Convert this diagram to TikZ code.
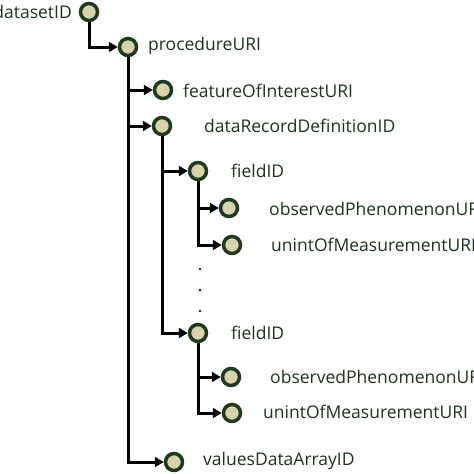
\documentclass[tikz,border=0pt]{standalone}
\usepackage{fontspec}
\setmainfont{Open Sans}
\usetikzlibrary{arrows.meta}
\definecolor{ringgreen}{RGB}{28,58,28}
\definecolor{beige}{RGB}{216,210,168}
\definecolor{txtgreen}{RGB}{28,50,28}
\tikzset{
  dot/.style={circle,draw=ringgreen,fill=beige,line width=3.5pt,minimum size=17pt,inner sep=0pt},
  lbl/.style={anchor=west,text=txtgreen,font=\fontsize{17.5}{19}\selectfont,inner sep=0pt},
  conn/.style={line width=3pt,-{Triangle[length=9pt,width=10pt]}},
  ell/.style={circle,fill=black,inner sep=0pt,minimum size=2.5pt}
}
\begin{document}
\begin{tikzpicture}[x=1pt,y=-1pt]
\useasboundingbox (0,0) rectangle (474,474);
% circles
\node[dot] (ds) at (89,12) {};
\node[dot] (pr) at (128,47) {};
\node[dot] (fo) at (163,90) {};
\node[dot] (dr) at (162,126) {};
\node[dot] (f1) at (198,171) {};
\node[dot] (o1) at (229,208) {};
\node[dot] (u1) at (232,245) {};
\node[dot] (f2) at (198,333) {};
\node[dot] (o2) at (231,377) {};
\node[dot] (u2) at (232,413) {};
\node[dot] (va) at (174,462) {};
% dots
\node[ell] (e1) at (200,269) {};
\node[ell] (e2) at (200,290) {};
\node[ell] (e3) at (200,311) {};
% labels
\node[lbl,anchor=east] (tds) at (72,12) {datasetID};
\node[lbl] (tpr) at (148,46) {procedureURI};
\node[lbl] (tfo) at (183,91) {featureOfInterestURI};
\node[lbl] (tdr) at (204,126) {dataRecordDefinitionID};
\node[lbl] (tf1) at (231,171) {fieldID};
\node[lbl] (to1) at (269,209) {observedPhenomenonURI};
\node[lbl] (tu1) at (271,245) {unintOfMeasurementURI};
\node[lbl] (tf2) at (231,333) {fieldID};
\node[lbl] (to2) at (270,377) {observedPhenomenonURI};
\node[lbl] (tu2) at (263,412) {unintOfMeasurementURI};
\node[lbl] (tva) at (203,461) {valuesDataArrayID};
% connectors
\draw[conn] (ds.south) |- (pr.west);
\draw[conn] (pr.south) |- (fo.west);
\draw[conn] (pr.south) |- (dr.west);
\draw[conn] (pr.south) |- (va.west);
\draw[conn] (dr.south) |- (f1.west);
\draw[conn] (dr.south) |- (f2.west);
\draw[conn] (f1.south) |- (o1.west);
\draw[conn] (f1.south) |- (u1.west);
\draw[conn] (f2.south) |- (o2.west);
\draw[conn] (f2.south) |- (u2.west);
\end{tikzpicture}
\end{document}
